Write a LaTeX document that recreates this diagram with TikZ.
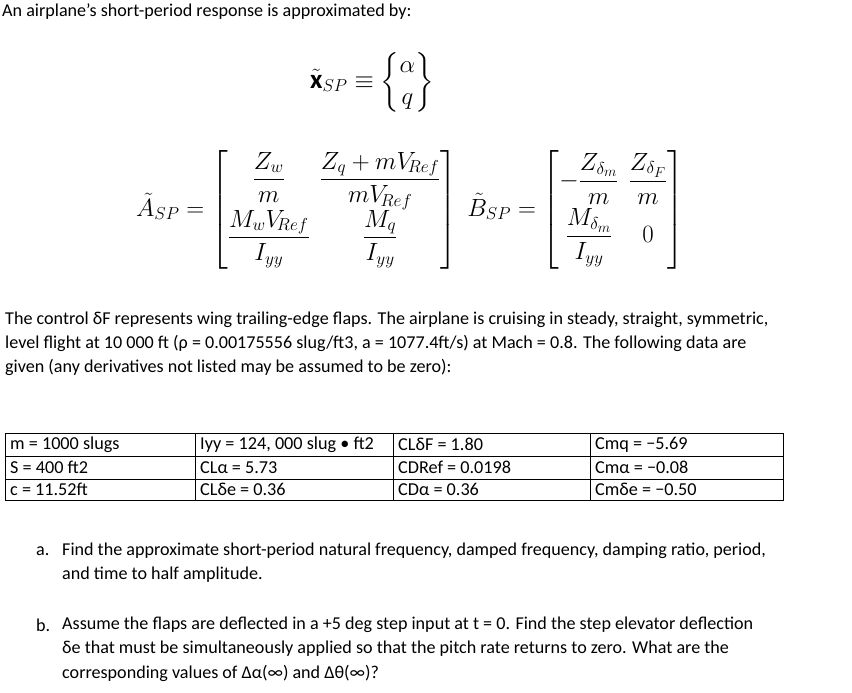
\documentclass[tikz,border=0pt]{standalone}
\usepackage{amsmath}
\usepackage{fontspec}
\setmainfont{Carlito}
\begin{document}
\begin{tikzpicture}[x=1pt,y=-1pt,
  txt/.style={anchor=west,inner sep=0pt,font=\fontsize{18.1}{21}\selectfont},
  cell/.style={anchor=west,inner sep=0pt,font=\fontsize{18.2}{20}\selectfont},
  eq/.style={inner sep=0pt,font=\fontsize{27}{32}\selectfont}]
\useasboundingbox (0,0) rectangle (852,693);
\node[txt] (t1) at (2,12) {An airplane’s short-period response is approximated by:};
\node[eq] (x) at (372,82) {$\tilde{\mathbf{x}}_{SP}\equiv\begin{Bmatrix}\alpha\\ q\end{Bmatrix}$};
\node[eq] (A) at (410,210) {$\tilde{A}_{SP}=\begin{bmatrix}\dfrac{Z_w}{m} & \dfrac{Z_q+mV_{\!Ref}}{mV_{\!Ref}}\\[12pt] \dfrac{M_wV_{\!Ref}}{I_{yy}} & \dfrac{M_q}{I_{yy}}\end{bmatrix}\ \tilde{B}_{SP}=\begin{bmatrix}-\dfrac{Z_{\delta_m}}{m} & \dfrac{Z_{\delta_F}}{m}\\[12pt] \dfrac{M_{\delta_m}}{I_{yy}} & 0\end{bmatrix}$};
\node[txt] (p1) at (5,320) {The control δF represents wing trailing-edge flaps. The airplane is cruising in steady, straight, symmetric,};
\node[txt] (p2) at (5,343) {level flight at 10 000 ft (ρ = 0.00175556 slug/ft3, a = 1077.4ft/s) at Mach = 0.8. The following data are};
\node[txt] (p3) at (5,367) {given (any derivatives not listed may be assumed to be zero):};
\draw (5,433) rectangle (783,500);
\draw (5,456) -- (783,456) (5,479) -- (783,479);
\draw (195,433) -- (195,500) (393,433) -- (393,500) (590,433) -- (590,500);
\node[cell] (c11) at (10,444.5) {m = 1000 slugs};
\node[cell] (c21) at (10,467.5) {S = 400 ft2};
\node[cell] (c31) at (10,489.5) {c = 11.52ft};
\node[cell] (c12) at (200,444.5) {Iyy = 124, 000 slug • ft2};
\node[cell] (c22) at (200,467.5) {CLα = 5.73};
\node[cell] (c32) at (200,489.5) {CLδe = 0.36};
\node[cell] (c13) at (398,444.5) {CLδF = 1.80};
\node[cell] (c23) at (398,467.5) {CDRef = 0.0198};
\node[cell] (c33) at (398,489.5) {CDα = 0.36};
\node[cell] (c14) at (595,444.5) {Cmq = −5.69};
\node[cell] (c24) at (595,467.5) {Cmα = −0.08};
\node[cell] (c34) at (595,489.5) {Cmδe = −0.50};
\node[txt] (a) at (36,551) {a.};
\node[txt] (a1) at (62,551) {Find the approximate short-period natural frequency, damped frequency, damping ratio, period,};
\node[txt] (a2) at (62,575) {and time to half amplitude.};
\node[txt] (b) at (36,625) {b.};
\node[txt] (b1) at (62,625) {Assume the flaps are deflected in a +5 deg step input at t = 0. Find the step elevator deflection};
\node[txt] (b2) at (62,649) {δe that must be simultaneously applied so that the pitch rate returns to zero. What are the};
\node[txt] (b3) at (62,673) {corresponding values of Δα(∞) and Δθ(∞)?};
\end{tikzpicture}
\end{document}
